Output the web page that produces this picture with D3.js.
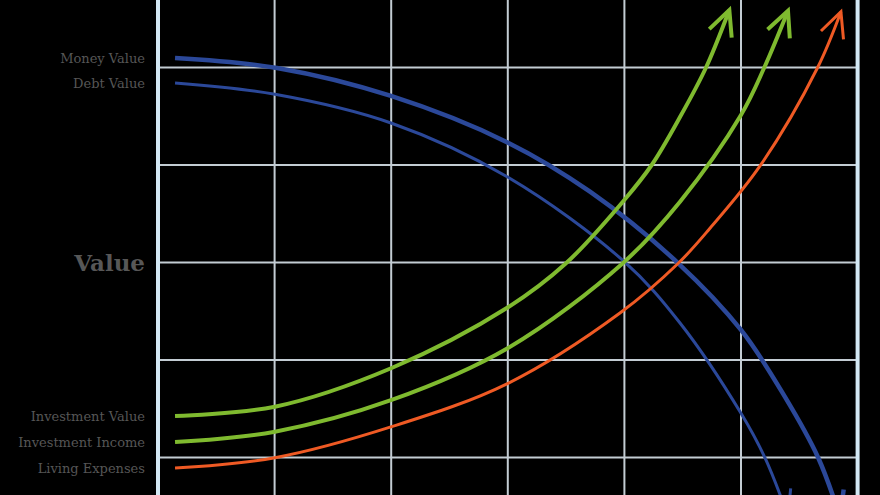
<!DOCTYPE html>
<html>
<head>
<meta charset="utf-8">
<script src="https://cdn.jsdelivr.net/npm/d3@7"></script>
<style>
  html, body { margin: 0; padding: 0; background: #000; }
  svg { display: block; }
</style>
</head>
<body>
<svg id="chart" width="880" height="495"></svg>
<script>
// ---- Data (grid units: x columns 0..6, y rows 0..4) ----
const xTicks = [0, 1, 2, 3, 4, 5, 6];
const yTicks = [0, 1, 2, 3, 4];
const yAxisTitle = "Value";

const seriesNames = ["Money Value", "Debt Value", "Investment Value", "Investment Income", "Living Expenses"];

const moneyValue = [
  [0.146, 4.097], [1.021, 3.995], [1.998, 3.708], [3.002, 3.229], [3.705, 2.726],
  [4.462, 1.992], [5.0, 1.308], [5.377, 0.621], [5.663, -0.005], [5.849, -0.610]
];
const debtValue = [
  [0.146, 3.841], [1.003, 3.725], [2.004, 3.428], [3.002, 2.874], [3.999, 2.008],
  [4.477, 1.379], [5.0, 0.453], [5.206, -0.005], [5.403, -0.600]
];
const investmentValue = [
  [0.146, 0.426], [1.003, 0.521], [2.004, 0.918], [3.002, 1.541], [3.499, 1.992],
  [3.999, 2.641], [4.234, 3.0], [4.477, 3.492], [4.697, 3.992], [4.900, 4.590]
];
const investmentIncome = [
  [0.146, 0.159], [1.003, 0.265], [2.004, 0.590], [3.002, 1.123], [3.991, 1.998],
  [4.477, 2.624], [5.0, 3.513], [5.197, 3.992], [5.403, 4.582]
];
const livingExpenses = [
  [0.146, -0.108], [1.003, -0.002], [2.004, 0.316], [3.002, 0.761], [3.962, 1.482],
  [4.462, 1.992], [4.734, 2.351], [5.163, 2.990], [5.654, 3.992], [5.857, 4.572]
];

const seriesData = [moneyValue, debtValue, investmentValue, investmentIncome, livingExpenses];
const seriesColors = ["#2b4899", "#2b4899", "#7fba2f", "#7fba2f", "#ef5a24"];
const seriesWidths = [4.5, 3, 4, 4, 3];

// ---- Layout ----
const svg = d3.select("#chart");
const W = 880, H = 495;
svg.append("rect").attr("width", W).attr("height", H).attr("fill", "#000");

const x = d3.scaleLinear().domain([0, 6]).range([158, 857.6]);
const y = d3.scaleLinear().domain([0, 4]).range([457.5, 67.5]);

// grid: horizontal
svg.append("g").selectAll("line").data(yTicks).join("line")
  .attr("x1", x(0)).attr("x2", x(6))
  .attr("y1", d => y(d)).attr("y2", d => y(d))
  .attr("stroke", "#c3ccd3").attr("stroke-width", 2);

// grid: vertical (inner)
svg.append("g").selectAll("line").data(xTicks.filter(d => d > 0 && d < 6)).join("line")
  .attr("x1", d => x(d)).attr("x2", d => x(d))
  .attr("y1", 0).attr("y2", H)
  .attr("stroke", "#c3ccd3").attr("stroke-width", 2);

// outer axis lines
svg.append("g").selectAll("line").data([0, 6]).join("line")
  .attr("x1", d => x(d)).attr("x2", d => x(d))
  .attr("y1", 0).attr("y2", H)
  .attr("stroke", "#d3e8f4").attr("stroke-width", 4);

// arrow markers
const defs = svg.append("defs");
seriesNames.forEach((name, i) => {
  defs.append("marker")
    .attr("id", "arrow" + i)
    .attr("markerUnits", "userSpaceOnUse")
    .attr("viewBox", "-40 -40 80 80")
    .attr("markerWidth", 80).attr("markerHeight", 80)
    .attr("refX", 0).attr("refY", 0)
    .attr("orient", "auto")
    .style("overflow", "visible")
    .append("path")
    .attr("d", "M-25,-12 L0,0 L-25,12")
    .attr("fill", "none")
    .attr("stroke", seriesColors[i])
    .attr("stroke-width", seriesWidths[i])
    .attr("stroke-linejoin", "miter");
});

const line = d3.line()
  .x(d => x(d[0])).y(d => y(d[1]))
  .curve(d3.curveCatmullRom.alpha(0.5));

svg.append("g").selectAll("path").data(seriesData).join("path")
  .attr("d", d => line(d))
  .attr("fill", "none")
  .attr("stroke", (d, i) => seriesColors[i])
  .attr("stroke-width", (d, i) => seriesWidths[i])
  .attr("marker-end", (d, i) => `url(#arrow${i})`);

// series labels at start points
svg.append("g").selectAll("text").data(seriesData).join("text")
  .attr("x", 145)
  .attr("y", d => y(d[0][1]))
  .attr("dy", "0.35em")
  .attr("text-anchor", "end")
  .attr("font-family", "'DejaVu Serif', serif")
  .attr("font-size", 13)
  .attr("fill", "#565656")
  .text((d, i) => seriesNames[i]);

// y axis title
svg.append("text")
  .attr("x", 145)
  .attr("y", y(2))
  .attr("dy", "0.35em")
  .attr("text-anchor", "end")
  .attr("font-family", "'DejaVu Serif', serif")
  .attr("font-weight", "bold")
  .attr("font-size", 23)
  .attr("fill", "#575757")
  .text(yAxisTitle);
</script>
</body>
</html>
